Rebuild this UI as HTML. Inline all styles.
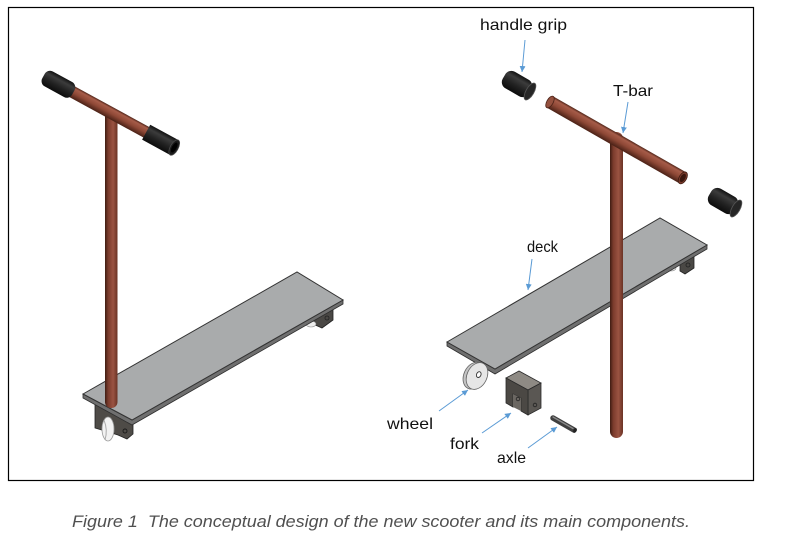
<!DOCTYPE html>
<html><head><meta charset="utf-8"><style>
html,body{margin:0;padding:0;background:#fff;}
svg{display:block;}
</style></head><body>
<svg width="792" height="538" viewBox="0 0 792 538" xmlns="http://www.w3.org/2000/svg">
<defs>
<linearGradient id="cuT" x1="0" y1="0" x2="0" y2="1">
<stop offset="0" stop-color="#4f2418"/><stop offset="0.18" stop-color="#a65c49"/><stop offset="0.55" stop-color="#8e4836"/><stop offset="1" stop-color="#4a2116"/>
</linearGradient>
<linearGradient id="cuS" x1="0" y1="0" x2="1" y2="0">
<stop offset="0" stop-color="#3e1c12"/><stop offset="0.25" stop-color="#7a3b2c"/><stop offset="0.65" stop-color="#9a5342"/><stop offset="1" stop-color="#6a3224"/>
</linearGradient>
<linearGradient id="blk" x1="0" y1="0" x2="0" y2="1">
<stop offset="0" stop-color="#111"/><stop offset="0.25" stop-color="#3c3c3c"/><stop offset="0.6" stop-color="#222"/><stop offset="1" stop-color="#0c0c0c"/>
</linearGradient>
<marker id="ah" viewBox="0 0 10 10" refX="10" refY="5" markerWidth="6" markerHeight="6" orient="auto" markerUnits="userSpaceOnUse">
<path d="M0,0 L10,5 L0,10 z" fill="#5b9bd5"/>
</marker>
</defs>

<rect x="8.5" y="7.5" width="745" height="473" fill="#fff" stroke="#000" stroke-width="1.2"/>

<!-- ===== LEFT SCOOTER ===== -->
<polygon points="313,312 333,302 333,320 322,328 313,324" fill="#4a4845" stroke="#222" stroke-width="0.8"/>
<ellipse cx="311" cy="324" rx="5" ry="3" fill="#eee" stroke="#888" stroke-width="0.6"/>
<circle cx="327" cy="318" r="2" fill="none" stroke="#222" stroke-width="0.8"/>
<polygon points="95,402 133,421 133,434 127,439 118,435 95,428" fill="#4e4b47" stroke="#222" stroke-width="0.8"/>
<ellipse cx="108" cy="429" rx="6" ry="12" fill="#f2f2f2" stroke="#999" stroke-width="0.8"/>
<path d="M104,420 Q108,430 105,440" fill="none" stroke="#aaa" stroke-width="1"/>
<circle cx="125" cy="431" r="2" fill="none" stroke="#1a1a1a" stroke-width="0.9"/>
<polygon points="83,394 132,420 343,300 343,304 132,425 83,398" fill="#6f6f6f" stroke="#2e2e2e" stroke-width="0.8"/>
<polygon points="83,394 297,272 343,300 132,420" fill="#a9abac" stroke="#333" stroke-width="1"/>
<rect x="105" y="110" width="12.5" height="298" rx="6" fill="url(#cuS)"/>
<g transform="translate(47,78) rotate(28.65)">
<rect x="26" y="-6" width="90" height="12" fill="url(#cuT)"/>
<rect x="-4" y="-8.5" width="34" height="17" rx="6" fill="url(#blk)"/>
<rect x="113" y="-8.5" width="32" height="17" fill="url(#blk)"/>
<ellipse cx="145" cy="0" rx="4" ry="8.5" fill="#1b1b1b" stroke="#4a4a4a" stroke-width="0.8"/>
<ellipse cx="145" cy="0" rx="2.3" ry="5.5" fill="#000"/>
</g>

<!-- ===== RIGHT SCOOTER (exploded) ===== -->
<polygon points="680,260 694,252 694,268 685,274 680,271" fill="#4a4845" stroke="#222" stroke-width="0.8"/>
<ellipse cx="671" cy="268" rx="5" ry="3" fill="#eee" stroke="#888" stroke-width="0.6"/>
<circle cx="688" cy="265" r="2" fill="none" stroke="#222" stroke-width="0.8"/>
<polygon points="447,342 495,369 707,245 707,249 495,374 447,346" fill="#6f6f6f" stroke="#2e2e2e" stroke-width="0.8"/>
<polygon points="447,342 660,218 707,245 495,369" fill="#a9abac" stroke="#333" stroke-width="1"/>
<rect x="610" y="132" width="13" height="306" rx="6.5" fill="url(#cuS)"/>
<g transform="translate(550,102) rotate(29.74)">
<rect x="0" y="-6.5" width="153" height="13" fill="url(#cuT)"/>
<ellipse cx="0" cy="0" rx="3.2" ry="6.5" fill="#94503e" stroke="#4a2116" stroke-width="0.8"/>
<ellipse cx="153" cy="0" rx="3.7" ry="6.5" fill="#7a3b2c" stroke="#3e1c12" stroke-width="0.8"/>
<ellipse cx="153" cy="0" rx="2.4" ry="4.6" fill="#3a170e"/>
</g>
<g transform="translate(517,84) rotate(30)">
<rect x="-15" y="-9.5" width="30" height="19" rx="7" fill="url(#blk)"/>
<ellipse cx="15" cy="0" rx="4" ry="9.5" fill="#262626" stroke="#555" stroke-width="0.8"/>
</g>
<g transform="translate(723,201) rotate(30)">
<rect x="-15" y="-9.5" width="30" height="19" rx="7" fill="url(#blk)"/>
<ellipse cx="15" cy="0" rx="4" ry="9.5" fill="#262626" stroke="#555" stroke-width="0.8"/>
</g>
<g transform="translate(477,376) rotate(25)">
<ellipse cx="-3" cy="1" rx="10" ry="14" fill="#c4c4c4" stroke="#666" stroke-width="0.8"/>
<ellipse cx="0" cy="0" rx="10" ry="14" fill="#e6e6e6" stroke="#666" stroke-width="0.8"/>
<ellipse cx="1" cy="-2" rx="2.2" ry="3" fill="#fff" stroke="#333" stroke-width="0.9"/>
</g>
<polygon points="506,378 519,371 541,383 528,390" fill="#8e8a84" stroke="#2a2a2a" stroke-width="0.8"/>
<polygon points="528,390 541,383 541,408 528,415" fill="#5a5753" stroke="#2a2a2a" stroke-width="0.8"/>
<polygon points="506,378 528,390 528,415 521,411 521,398 513,394 513,407 506,403" fill="#4b4844" stroke="#2a2a2a" stroke-width="0.8"/>
<polygon points="513,394 521,398 521,411 513,407" fill="#6b6762"/>
<circle cx="518" cy="399" r="1.8" fill="none" stroke="#222" stroke-width="0.8"/>
<circle cx="535" cy="405" r="1.8" fill="none" stroke="#222" stroke-width="0.8"/>
<line x1="553" y1="418" x2="574" y2="430" stroke="#3f3f3f" stroke-width="5.5" stroke-linecap="round"/>
<line x1="553" y1="417" x2="573" y2="428.5" stroke="#8a8a8a" stroke-width="1.3" stroke-linecap="round"/>
<ellipse cx="575" cy="430.5" rx="1.6" ry="2.6" transform="rotate(30 575 430.5)" fill="#222"/>

<g stroke="#5b9bd5" stroke-width="1" fill="none" marker-end="url(#ah)">
<line x1="525" y1="40" x2="522" y2="72"/>
<line x1="628" y1="102" x2="623" y2="133"/>
<line x1="532" y1="259" x2="528" y2="290"/>
<line x1="439" y1="411" x2="468" y2="390"/>
<line x1="482" y1="433" x2="511" y2="413"/>
<line x1="528" y1="448" x2="557" y2="427"/>
</g>

<g font-family="'Liberation Sans', sans-serif" font-size="16" fill="#111">
<text x="480" y="30" textLength="87" lengthAdjust="spacingAndGlyphs">handle grip</text>
<text x="613" y="96" textLength="40" lengthAdjust="spacingAndGlyphs">T-bar</text>
<text x="527" y="252" textLength="31" lengthAdjust="spacingAndGlyphs">deck</text>
<text x="387" y="429" textLength="46" lengthAdjust="spacingAndGlyphs">wheel</text>
<text x="450" y="449" textLength="29" lengthAdjust="spacingAndGlyphs">fork</text>
<text x="497" y="463" textLength="29" lengthAdjust="spacingAndGlyphs">axle</text>
</g>

<text x="72" y="527" font-family="'Liberation Sans', sans-serif" font-style="italic" font-size="17" fill="#505050" textLength="618" lengthAdjust="spacingAndGlyphs" xml:space="preserve">Figure 1&#160; The conceptual design of the new scooter and its main components.</text>
</svg>
</body></html>
